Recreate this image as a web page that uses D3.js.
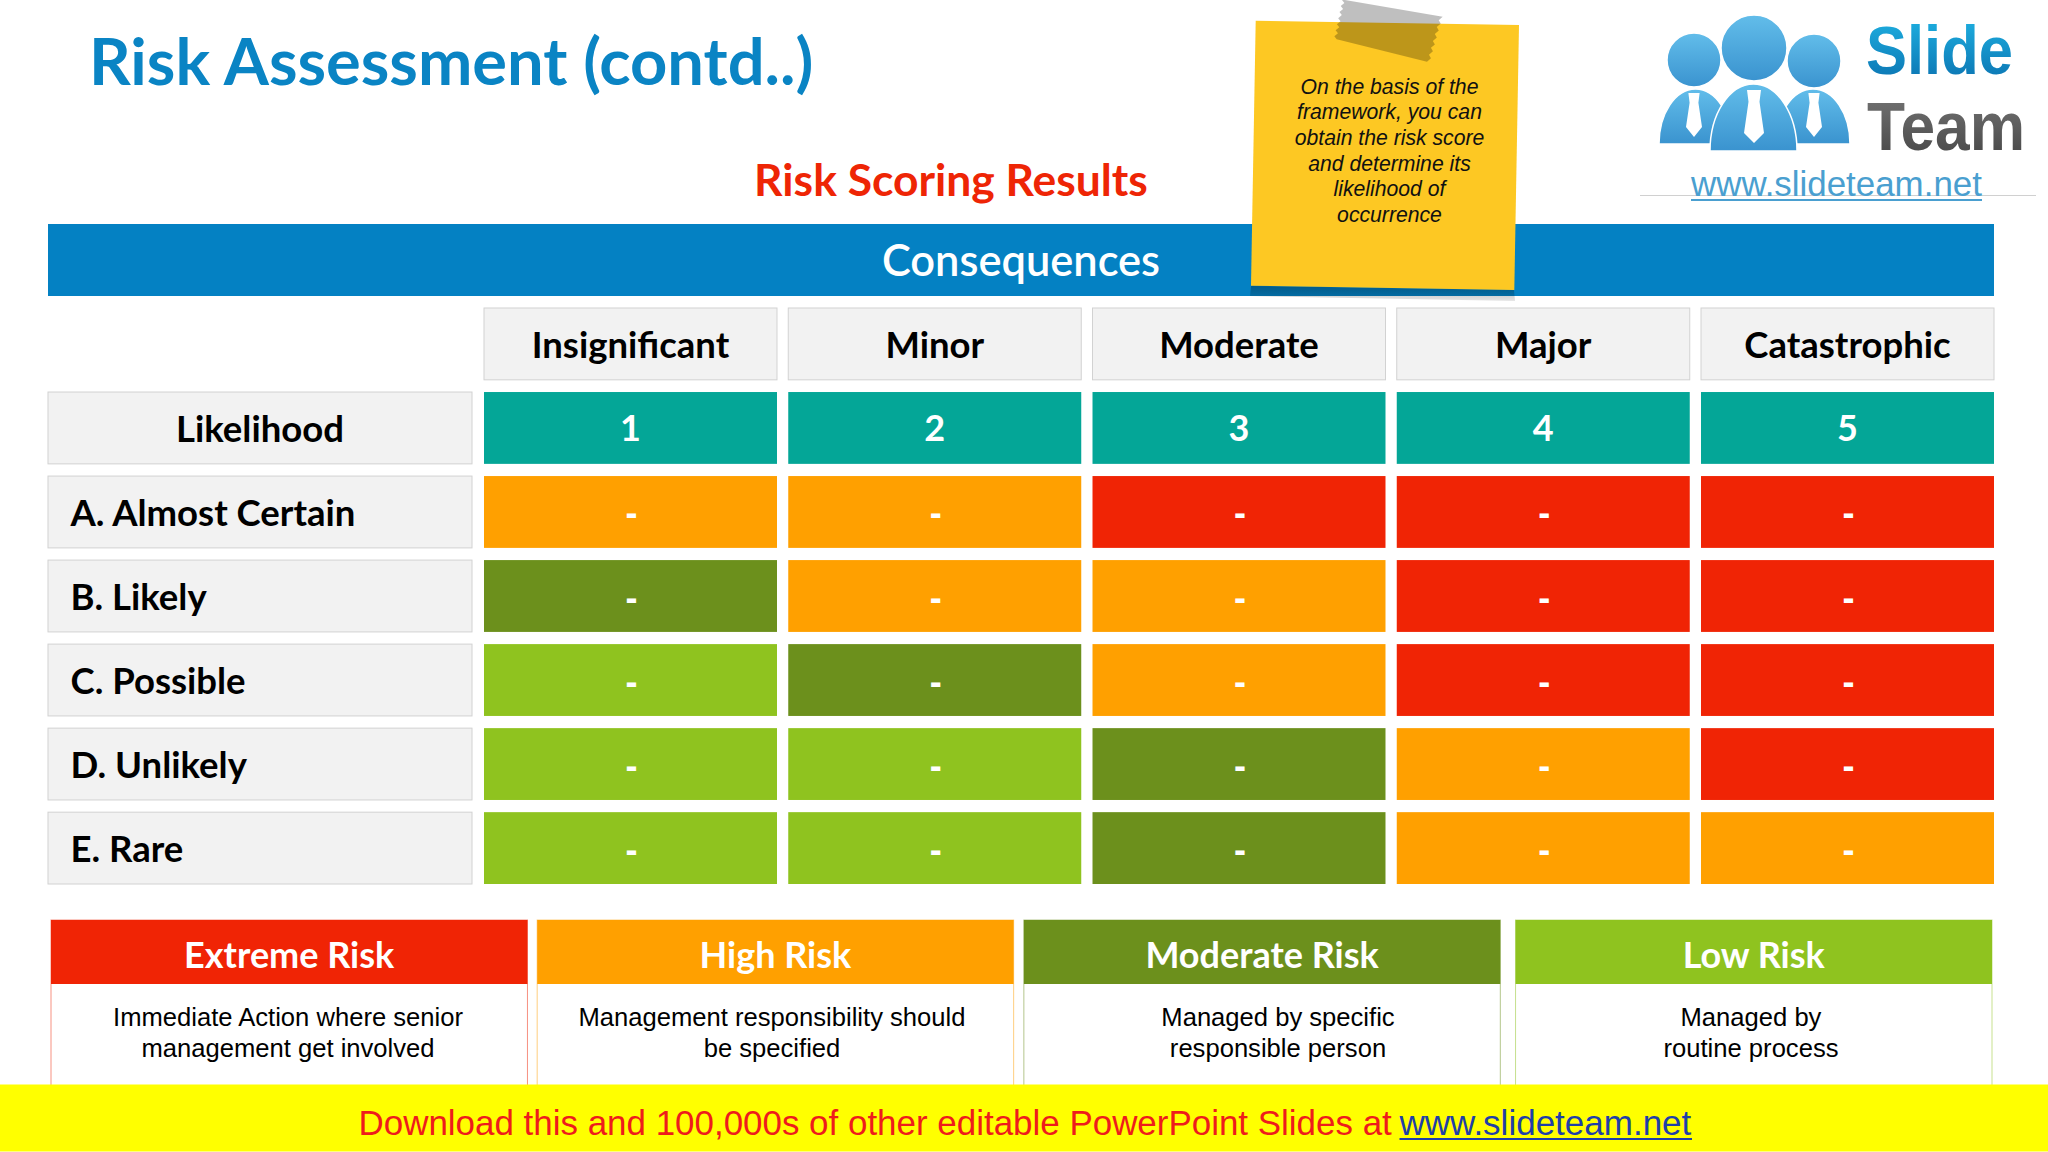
<!DOCTYPE html>
<html>
<head>
<meta charset="utf-8">
<title>Risk Assessment (contd..)</title>
<script src="https://cdn.jsdelivr.net/npm/d3@7"></script>
<style>
html,body{margin:0;padding:0;background:#fff;}
svg{display:block;}
text{font-family:Lato,sans-serif;font-weight:700;}
.arial{font-family:"Liberation Sans",Arial,sans-serif;font-weight:400;}
.dash{font-family:"Liberation Sans",Arial,sans-serif;font-weight:700;}
</style>
</head>
<body>
<svg id="chart" width="2048" height="1152"></svg>
<script>
// values
var consequences = ["Insignificant", "Minor", "Moderate", "Major", "Catastrophic"];
var scores = ["1", "2", "3", "4", "5"];
var likelihoods = ["A. Almost Certain", "B. Likely", "C. Possible", "D. Unlikely", "E. Rare"];
var rowA = ["High", "High", "Extreme", "Extreme", "Extreme"];
var rowB = ["Moderate", "High", "High", "Extreme", "Extreme"];
var rowC = ["Low", "Moderate", "High", "Extreme", "Extreme"];
var rowD = ["Low", "Low", "Moderate", "High", "Extreme"];
var rowE = ["Low", "Low", "Moderate", "High", "High"];
var riskRows = [rowA, rowB, rowC, rowD, rowE];
var riskNames = ["Extreme", "High", "Moderate", "Low"];
var riskLine1 = ["Immediate Action where senior", "Management responsibility should", "Managed by specific", "Managed by"];
var riskLine2 = ["management get involved", "be specified", "responsible person", "routine process"];
var noteLines = ["On the basis of the", "framework, you can", "obtain the risk score", "and determine its", "likelihood of", "occurrence"];

var svg = d3.select("#chart");
var defs = svg.append("defs");

var color = d3.scaleOrdinal()
	.domain(riskNames)
	.range(["#f02405", "#ffa000", "#6c901c", "#8fc31f"]);

var x = d3.scaleBand().domain(consequences).range([484, 1994]).paddingInner(0.037);
var y = d3.scaleBand()
	.domain(["header", "Likelihood"].concat(likelihoods))
	.range([308, 884])
	.paddingInner(0.145);
var legendX = d3.scaleBand().domain(riskNames).range([50, 1991]).paddingInner(0.024);
// the legend boxes are not quite evenly spaced on the slide
var legendShift = {Extreme: 1, High: -1, Moderate: -2.5, Low: 1};
var bodyCenter = {Extreme: 288, High: 772, Moderate: 1278, Low: 1751};

function label(g, txt, px, py, size, fill, anchor) {
	return g.append("text")
		.attr("x", px).attr("y", py)
		.attr("font-size", size)
		.attr("fill", fill)
		.attr("text-anchor", anchor || "middle")
		.text(txt);
}

// title
label(svg, "Risk Assessment (contd..)", 89, 85, 65, "#0a84c4", "start");
label(svg, "Risk Scoring Results", 951, 195.5, 44.4, "#ee2505");

// banner
svg.append("rect").attr("x", 48).attr("y", 224).attr("width", 1946).attr("height", 72).attr("fill", "#0481c3");
label(svg, "Consequences", 1021, 275.5, 43.4, "#fff").style("font-weight", 600);

// column headers
svg.selectAll(".col-head").data(consequences).join("rect")
	.attr("class", "col-head")
	.attr("x", function(d){ return x(d); })
	.attr("y", y("header"))
	.attr("width", x.bandwidth())
	.attr("height", y.bandwidth())
	.attr("fill", "#f2f2f2")
	.attr("stroke", "#d2d2d2");
svg.selectAll(".col-text").data(consequences).join("text")
	.attr("class", "col-text")
	.attr("x", function(d){ return x(d) + x.bandwidth() / 2; })
	.attr("y", y("header") + y.bandwidth() / 2 + 14)
	.attr("font-size", 36.5)
	.attr("fill", "#000")
	.attr("text-anchor", "middle")
	.text(function(d){ return d; });

// score row
svg.selectAll(".score").data(consequences).join("rect")
	.attr("class", "score")
	.attr("x", function(d){ return x(d); })
	.attr("y", y("Likelihood"))
	.attr("width", x.bandwidth())
	.attr("height", y.bandwidth())
	.attr("fill", "#04a697");
svg.selectAll(".score-text").data(consequences).join("text")
	.attr("class", "score-text")
	.attr("x", function(d){ return x(d) + x.bandwidth() / 2; })
	.attr("y", y("Likelihood") + y.bandwidth() / 2 + 13.5)
	.attr("font-size", 36)
	.attr("fill", "#fff")
	.attr("text-anchor", "middle")
	.text(function(d, i){ return scores[i]; });

// row labels
var rowLabels = ["Likelihood"].concat(likelihoods);
svg.selectAll(".row-head").data(rowLabels).join("rect")
	.attr("class", "row-head")
	.attr("x", 48)
	.attr("y", function(d){ return y(d); })
	.attr("width", 424)
	.attr("height", y.bandwidth())
	.attr("fill", "#f2f2f2")
	.attr("stroke", "#d2d2d2");
svg.selectAll(".row-text").data(rowLabels).join("text")
	.attr("class", "row-text")
	.attr("x", function(d, i){ return i == 0 ? 260 : 70.5; })
	.attr("y", function(d){ return y(d) + y.bandwidth() / 2 + 14; })
	.attr("font-size", 36.5)
	.attr("fill", "#000")
	.attr("text-anchor", function(d, i){ return i == 0 ? "middle" : "start"; })
	.text(function(d){ return d; });

// risk matrix
var cells = [];
riskRows.forEach(function(row, r){
	row.forEach(function(level, c){
		cells.push({row: likelihoods[r], col: consequences[c], level: level});
	});
});
svg.selectAll(".cell").data(cells).join("rect")
	.attr("class", "cell")
	.attr("x", function(d){ return x(d.col); })
	.attr("y", function(d){ return y(d.row); })
	.attr("width", x.bandwidth())
	.attr("height", y.bandwidth())
	.attr("fill", function(d){ return color(d.level); });
svg.selectAll(".cell-text").data(cells).join("text")
	.attr("class", "dash")
	.attr("x", function(d){ return x(d.col) + x.bandwidth() / 2 + 1; })
	.attr("y", function(d){ return y(d.row) + y.bandwidth() / 2 + 13.5; })
	.attr("font-size", 36)
	.attr("fill", "#fff")
	.attr("text-anchor", "middle")
	.text("-");

// legend boxes
var legend = svg.selectAll(".legend").data(riskNames).join("g")
	.attr("class", "legend")
	.attr("transform", function(d){ return "translate(" + (legendX(d) + legendShift[d]) + ",920)"; });
legend.append("rect")
	.attr("width", legendX.bandwidth())
	.attr("height", 170)
	.attr("fill", "#fff")
	.attr("stroke", function(d){ return color(d); })
	.attr("stroke-opacity", 0.5);
legend.append("rect")
	.attr("width", legendX.bandwidth())
	.attr("height", 64)
	.attr("fill", function(d){ return color(d); });
legend.append("text")
	.attr("x", legendX.bandwidth() / 2)
	.attr("y", 47.5)
	.attr("font-size", 36)
	.attr("fill", "#fff")
	.attr("text-anchor", "middle")
	.text(function(d){ return d + " Risk"; });
legend.append("text")
	.attr("class", "arial")
	.attr("x", function(d){ return bodyCenter[d] - legendX(d) - legendShift[d]; })
	.attr("y", 106)
	.attr("font-size", 25.6)
	.attr("fill", "#000")
	.attr("text-anchor", "middle")
	.text(function(d, i){ return riskLine1[i]; });
legend.append("text")
	.attr("class", "arial")
	.attr("x", function(d){ return bodyCenter[d] - legendX(d) - legendShift[d]; })
	.attr("y", 136.5)
	.attr("font-size", 25.6)
	.attr("fill", "#000")
	.attr("text-anchor", "middle")
	.text(function(d, i){ return riskLine2[i]; });

// sticky note
var shade = defs.append("linearGradient").attr("id", "noteShade").attr("x1", 0).attr("y1", 0).attr("x2", 0).attr("y2", 1);
shade.append("stop").attr("offset", 0).attr("stop-color", "#000").attr("stop-opacity", 0.3);
shade.append("stop").attr("offset", 1).attr("stop-color", "#000").attr("stop-opacity", 0.1);
svg.append("path")
	.attr("d", "M1251,286 L1514,290 L1515,301 L1250,296 Z")
	.attr("fill", "url(#noteShade)");
svg.append("path")
	.attr("d", "M1255.7,20.7 L1519,25 L1514.3,290 L1251,285.7 Z")
	.attr("fill", "#fdc823");
var teeth = d3.range(0, 13);
var tape = "M1345,0 L1442.7,16.7";
teeth.forEach(function(i){
	var t = (i + 1) / 13;
	var px = 1442.7 + (1430 - 1442.7) * t, py = 16.7 + (61.7 - 16.7) * t;
	tape += " L" + (px - (i % 2 ? 0 : 3)) + "," + py;
});
tape += " L1336.7,39.3";
teeth.forEach(function(i){
	var t = (i + 1) / 13;
	var px = 1336.7 + (1345 - 1336.7) * t, py = 39.3 + (0 - 39.3) * t;
	tape += " L" + (px - (i % 2 ? 0 : 3)) + "," + py;
});
svg.append("path").attr("d", tape + " Z").attr("fill", "#000").attr("fill-opacity", 0.25);
svg.append("g").selectAll("text").data(noteLines).join("text")
	.attr("class", "arial")
	.attr("x", 1389.5)
	.attr("y", function(d, i){ return 93.7 + i * 25.6; })
	.attr("font-size", 21.2)
	.attr("font-style", "italic")
	.attr("fill", "#111")
	.attr("text-anchor", "middle")
	.text(function(d){ return d; });

// logo
var blue = defs.append("linearGradient").attr("id", "logoBlue").attr("x1", 0).attr("y1", 0).attr("x2", 0).attr("y2", 1);
blue.append("stop").attr("offset", 0).attr("stop-color", "#62bdea");
blue.append("stop").attr("offset", 1).attr("stop-color", "#3a93cf");
var slideFill = defs.append("linearGradient").attr("id", "slideFill").attr("x1", 0).attr("y1", 0).attr("x2", 0).attr("y2", 1);
slideFill.append("stop").attr("offset", 0).attr("stop-color", "#1fb4e4");
slideFill.append("stop").attr("offset", 1).attr("stop-color", "#0a6fae");
var teamFill = defs.append("linearGradient").attr("id", "teamFill").attr("x1", 0).attr("y1", 0).attr("x2", 0).attr("y2", 1);
teamFill.append("stop").attr("offset", 0).attr("stop-color", "#777");
teamFill.append("stop").attr("offset", 1).attr("stop-color", "#444");

function figure(cx, cy, r, x0, x1, top, bottom, tieTop, tieBottom, tieW) {
	var g = svg.append("g");
	g.append("circle").attr("cx", cx).attr("cy", cy).attr("r", r)
		.attr("fill", "url(#logoBlue)").attr("stroke", "#fff").attr("stroke-width", 1.5);
	var rx = (x1 - x0) / 2, ry = bottom - top;
	g.append("path")
		.attr("d", "M" + x0 + "," + bottom + " A" + rx + "," + ry + " 0 0 1 " + x1 + "," + bottom + " Z")
		.attr("fill", "url(#logoBlue)").attr("stroke", "#fff").attr("stroke-width", 1.5);
	var w = tieW / 2, k = tieTop + (tieBottom - tieTop) * 0.22;
	g.append("path")
		.attr("d", "M" + (cx - w * 0.7) + "," + tieTop + " L" + (cx + w * 0.7) + "," + tieTop + " L" + (cx + w * 0.55) + "," + k +
			" L" + (cx + w) + "," + (tieBottom - 10) + " L" + cx + "," + tieBottom + " L" + (cx - w) + "," + (tieBottom - 10) +
			" L" + (cx - w * 0.55) + "," + k + " Z")
		.attr("fill", "#fff");
}
figure(1694, 60, 27, 1659, 1732, 89, 144, 93, 137, 16);
figure(1814, 61, 27, 1776, 1850, 89, 144, 93, 137, 16);
figure(1754, 48, 33, 1710, 1797, 84, 151, 90, 143, 20);
label(svg, "Slide", 1866, 74, 68, "url(#slideFill)", "start")
	.attr("class", "dash")
	.attr("textLength", 147).attr("lengthAdjust", "spacingAndGlyphs");
label(svg, "Team", 1867, 150, 68, "url(#teamFill)", "start")
	.attr("class", "dash")
	.attr("textLength", 158).attr("lengthAdjust", "spacingAndGlyphs");
svg.append("line").attr("x1", 1640).attr("x2", 2036).attr("y1", 195.5).attr("y2", 195.5).attr("stroke", "#d0d0d0");
label(svg, "www.slideteam.net", 1691, 195.5, 34.9, "#4a9fd0", "start").attr("class", "arial");
svg.append("line").attr("x1", 1691).attr("x2", 1982).attr("y1", 200).attr("y2", 200).attr("stroke", "#4a9fd0").attr("stroke-width", 2);

// download strip
svg.append("rect").attr("x", 0).attr("y", 1084.5).attr("width", 2048).attr("height", 67).attr("fill", "#ffff00");
label(svg, "Download this and 100,000s of other editable PowerPoint Slides at", 358.5, 1134.5, 34.95, "#ee1c1c", "start").attr("class", "arial");
label(svg, "www.slideteam.net", 1399.5, 1134.5, 35, "#1f3fa8", "start").attr("class", "arial");
svg.append("line").attr("x1", 1399.5).attr("x2", 1692).attr("y1", 1139).attr("y2", 1139).attr("stroke", "#1f3fa8").attr("stroke-width", 2);
</script>
</body>
</html>
